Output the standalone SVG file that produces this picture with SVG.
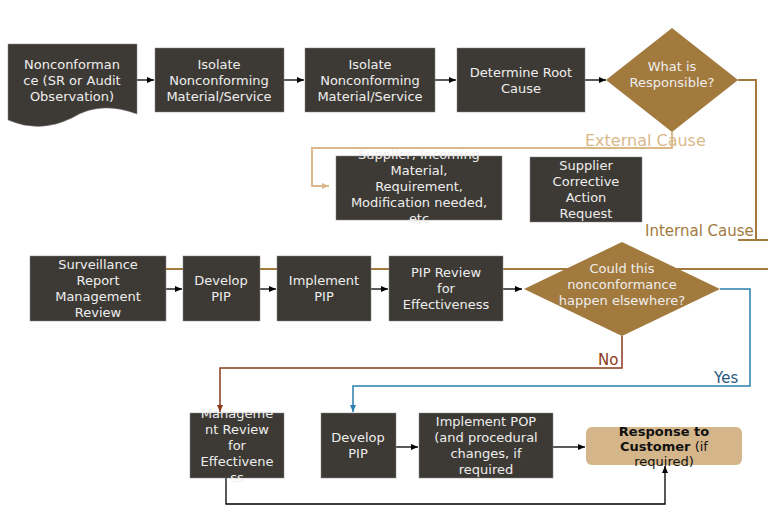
<svg xmlns="http://www.w3.org/2000/svg" width="768" height="532" viewBox="0 0 768 532">
<defs>
<style>
.b{fill:#3d3a35;stroke:#888;stroke-width:0.5}
.d{fill:#a27a3e}
.t{font-family:"DejaVu Sans",sans-serif;font-size:13px;fill:#eeeeee;text-anchor:middle}
.c{fill:none;stroke:#000;stroke-width:1.3}
</style>
<marker id="a" markerWidth="8" markerHeight="8" refX="7" refY="4" orient="auto" markerUnits="userSpaceOnUse"><path d="M0,1 L7,4 L0,7z" fill="#000"/></marker>
<marker id="ab" markerWidth="8" markerHeight="8" refX="7" refY="4" orient="auto" markerUnits="userSpaceOnUse"><path d="M0,1 L7,4 L0,7z" fill="#a27a3e"/></marker>
<marker id="at" markerWidth="8" markerHeight="8" refX="7" refY="4" orient="auto" markerUnits="userSpaceOnUse"><path d="M0,1 L7,4 L0,7z" fill="#d9b98a"/></marker>
<marker id="ar" markerWidth="8" markerHeight="8" refX="7" refY="4" orient="auto" markerUnits="userSpaceOnUse"><path d="M0,1 L7,4 L0,7z" fill="#8b3a1a"/></marker>
<marker id="ay" markerWidth="8" markerHeight="8" refX="7" refY="4" orient="auto" markerUnits="userSpaceOnUse"><path d="M0,1 L7,4 L0,7z" fill="#2a7fb0"/></marker>
</defs>
<rect width="768" height="532" fill="#fff"/>
<g id="connectors">
<path class="c" d="M137,80 H154" marker-end="url(#a)"/>
<path class="c" d="M284,80 H304" marker-end="url(#a)"/>
<path class="c" d="M435,80 H456" marker-end="url(#a)"/>
<path class="c" d="M585,80 H606" marker-end="url(#a)"/>
<path fill="none" stroke="#a27a3e" stroke-width="2" d="M738,80 H756 V240 M738,240 H768"/>
<path fill="none" stroke="#d9b98a" stroke-width="2" d="M672,132 V148 H312 V186 H329" marker-end="url(#at)"/>
<path fill="none" stroke="#a27a3e" stroke-width="2" d="M768,269 H31" marker-end="url(#ab)"/>
<path class="c" d="M166,289 H182" marker-end="url(#a)"/>
<path class="c" d="M260,289 H276" marker-end="url(#a)"/>
<path class="c" d="M371,289 H388" marker-end="url(#a)"/>
<path class="c" d="M503,289 H522" marker-end="url(#a)"/>
<path fill="none" stroke="#8b3a1a" stroke-width="1.5" d="M622,336 V368 H220 V412" marker-end="url(#ar)"/>
<path fill="none" stroke="#2a7fb0" stroke-width="1.5" d="M720,289 H750 V386 H353 V412" marker-end="url(#ay)"/>
<path class="c" d="M396,447 H418" marker-end="url(#a)"/>
<path class="c" d="M553,447 H585" marker-end="url(#a)"/>
<path class="c" d="M226,478 V504 H665 V466" marker-end="url(#a)"/>
<text x="585" y="146" font-family="DejaVu Sans,sans-serif" font-size="16" fill="#d9b98a">External Cause</text>
<text x="645" y="236" font-family="DejaVu Sans,sans-serif" font-size="15" fill="#a27a3e">Internal Cause</text>
<text x="598" y="365" font-family="DejaVu Sans,sans-serif" font-size="15" fill="#8b3a1a">No</text>
<text x="714" y="383" font-family="DejaVu Sans,sans-serif" font-size="15" fill="#2a5a80">Yes</text>
</g>
<g id="n1"><path class="b" d="M8,44 H137 V114 Q100,100 72,118 Q40,134 8,120 Z"/><text class="t"><tspan x="72" y="69">Nonconforman</tspan><tspan x="72" y="85">ce (SR or Audit</tspan><tspan x="72" y="101">Observation)</tspan></text></g>
<g id="n2"><rect class="b" x="155" y="48" width="129" height="64"/><text class="t"><tspan x="219" y="69">Isolate</tspan><tspan x="219" y="85">Nonconforming</tspan><tspan x="219" y="101">Material/Service</tspan></text></g>
<g id="n3"><rect class="b" x="305" y="48" width="130" height="64"/><text class="t"><tspan x="370" y="69">Isolate</tspan><tspan x="370" y="85">Nonconforming</tspan><tspan x="370" y="101">Material/Service</tspan></text></g>
<g id="n4"><rect class="b" x="457" y="48" width="128" height="64"/><text class="t"><tspan x="521" y="77">Determine Root</tspan><tspan x="521" y="93">Cause</tspan></text></g>
<g id="n5"><path class="d" d="M672,28 L738,80 L672,132 L606,80Z"/><text class="t"><tspan x="672" y="71">What is</tspan><tspan x="672" y="87">Responsible?</tspan></text></g>
<g id="n6"><rect class="b" x="336" y="156" width="166" height="64"/><text class="t"><tspan x="419" y="159">Supplier, Incoming</tspan><tspan x="419" y="175">Material,</tspan><tspan x="419" y="191">Requirement,</tspan><tspan x="419" y="207">Modification needed,</tspan><tspan x="419" y="223">etc</tspan></text></g>
<g id="n7"><rect class="b" x="530" y="157" width="112" height="65"/><text class="t"><tspan x="586" y="170">Supplier</tspan><tspan x="586" y="186">Corrective</tspan><tspan x="586" y="202">Action</tspan><tspan x="586" y="218">Request</tspan></text></g>
<g id="n8"><rect class="b" x="30" y="256" width="136" height="65"/><text class="t"><tspan x="98" y="269">Surveillance</tspan><tspan x="98" y="285">Report</tspan><tspan x="98" y="301">Management</tspan><tspan x="98" y="317">Review</tspan></text></g>
<g id="n9"><rect class="b" x="183" y="256" width="77" height="65"/><text class="t"><tspan x="221" y="285">Develop</tspan><tspan x="221" y="301">PIP</tspan></text></g>
<g id="n10"><rect class="b" x="277" y="256" width="94" height="65"/><text class="t"><tspan x="324" y="285">Implement</tspan><tspan x="324" y="301">PIP</tspan></text></g>
<g id="n11"><rect class="b" x="389" y="256" width="114" height="65"/><text class="t"><tspan x="446" y="277">PIP Review</tspan><tspan x="446" y="293">for</tspan><tspan x="446" y="309">Effectiveness</tspan></text></g>
<g id="n12"><path class="d" d="M622,242 L720,289 L622,336 L524,289Z"/><text class="t"><tspan x="622" y="273">Could this</tspan><tspan x="622" y="289">nonconformance</tspan><tspan x="622" y="305">happen elsewhere?</tspan></text></g>
<g id="n13"><rect class="b" x="190" y="413" width="94" height="65"/><text class="t"><tspan x="237" y="418">Manageme</tspan><tspan x="237" y="434">nt Review</tspan><tspan x="237" y="450">for</tspan><tspan x="237" y="466">Effectivene</tspan><tspan x="237" y="482">ss</tspan></text></g>
<g id="n14"><rect class="b" x="321" y="413" width="75" height="65"/><text class="t"><tspan x="358" y="442">Develop</tspan><tspan x="358" y="458">PIP</tspan></text></g>
<g id="n15"><rect class="b" x="419" y="413" width="134" height="65"/><text class="t"><tspan x="486" y="426">Implement POP</tspan><tspan x="486" y="442">(and procedural</tspan><tspan x="486" y="458">changes, if</tspan><tspan x="486" y="474">required</tspan></text></g>
<g id="n16"><rect x="586" y="427" width="156" height="38" rx="6" fill="#d4b68a"/><text font-family="DejaVu Sans,sans-serif" font-size="13" fill="#111" text-anchor="middle"><tspan x="664" y="436" font-weight="bold">Response to</tspan><tspan x="664" y="451"><tspan font-weight="bold">Customer</tspan> (if</tspan><tspan x="664" y="466">required)</tspan></text></g>
</svg>
